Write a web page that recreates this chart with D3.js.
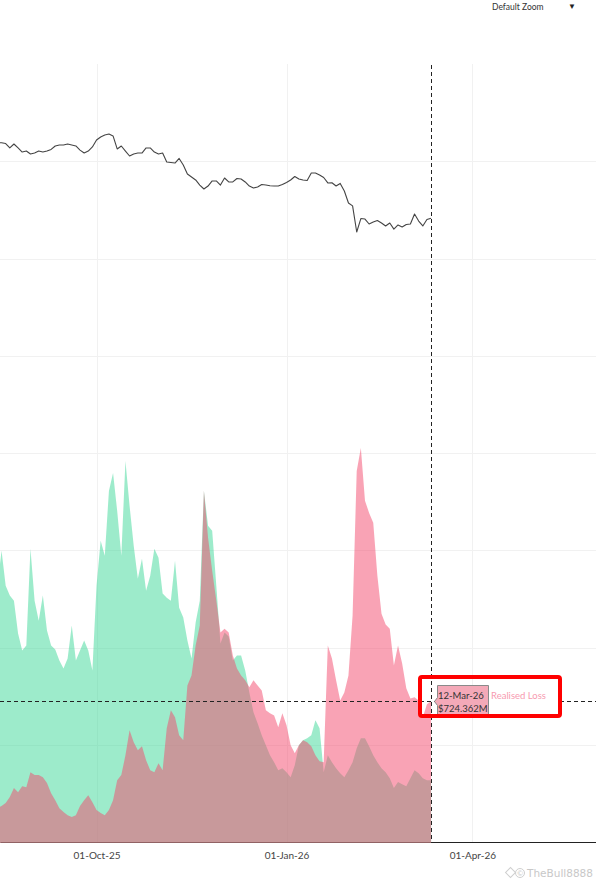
<!DOCTYPE html>
<html>
<head>
<meta charset="utf-8">
<script src="https://cdn.jsdelivr.net/npm/d3@7"></script>
<style>
  html, body { margin: 0; padding: 0; background: #fff; }
  svg { display: block; font-family: Lato, "Open Sans", sans-serif; }
</style>
</head>
<body>
<svg id="chart" width="596" height="889"></svg>
<script>
// ---------- data (2-day steps starting 14-Aug-2025) ----------
const startDate = "2025-08-14";
const stepDays = 2;
const tickLabels = ["2025-10-01", "2026-01-01", "2026-04-01"];

// Realised Profit ($M)
const realisedProfit = [1318,1497,1318,1267,1241,1072,985,1010,1508,1241,
  1138,1267,1087,1010,990,933,892,944,1113,933,
  985,1036,985,882,1318,1549,1472,1805,1897,1702,
  1472,1959,1728,1523,1354,1456,1292,1369,1508,1461,
  1277,1256,1241,1446,1205,1154,1036,944,1128,1241,
  1805,1626,1600,1318,1020,1077,1056,933,959,959,
  882,769,667,610,549,497,446,410,369,379,
  359,333,395,497,523,533,549,626,585,359,
  446,410,379,354,333,369,410,482,533,533,
  492,446,410,379,359,328,277,308,297,287,
  328,369,354,328,318,318];

// Realised Loss ($M)
const realisedLoss = [174,185,200,231,277,256,287,282,359,344,
  344,333,303,251,215,174,154,138,128,138,
  185,215,241,205,164,149,138,164,215,318,
  344,446,574,513,472,492,420,369,359,405,
  369,585,677,641,549,523,805,856,1010,1113,
  1805,1564,1395,1241,1077,1097,1077,959,892,856,
  831,795,831,805,779,677,662,651,590,662,
  600,497,456,497,523,513,492,446,415,410,
  1010,944,831,728,769,856,1164,1908,2026,1754,
  1692,1641,1369,1174,1118,1097,908,1010,918,790,
  738,744,728,641,708,724.362];

// BTC price ($K)
const price = [117.7,117.7,117.2,114.5,116.9,114.5,112.0,112.6,110.8,111.4,
  112.6,112.0,112.6,113.6,115.7,116.3,116.3,116.9,116.3,115.7,
  113.2,111.4,112.6,115.1,119.3,121.2,122.4,123.0,121.8,113.9,
  115.7,112.6,109.6,110.8,111.4,111.4,114.5,114.5,112.0,110.8,
  111.4,105.9,105.6,105.3,108.1,104.1,98.6,96.8,95.0,91.9,
  89.5,91.3,94.4,94.4,91.9,96.2,93.8,93.8,95.9,95.6,
  93.8,91.3,90.1,90.7,92.2,91.9,91.5,91.3,91.3,92.2,
  93.5,95.0,97.1,95.6,95.0,94.7,99.2,99.2,98.0,96.5,
  93.2,93.3,91.3,92.9,88.3,81.0,79.2,63.3,71.5,71.2,
  68.2,69.4,70.3,68.8,67.0,68.8,65.1,67.6,66.4,67.9,
  68.2,74.3,70.0,67.0,70.9,71.7];

const yGridValues = [500,1000,1500,2000,2500,3000,3500];

// ---------- setup ----------
const W = 596, H = 889;
const svg = d3.select("#chart");
const parse = d3.utcParse("%Y-%m-%d");
const start = parse(startDate);
const dates = realisedProfit.map((_, i) => d3.utcDay.offset(start, i * stepDays));
const rows = dates.map((d, i) => ({date: d, profit: realisedProfit[i], loss: realisedLoss[i], price: price[i]}));

const plotTop = 64, plotBottom = 842;
const x = d3.scaleUtc()
  .domain([Date.UTC(2025,7,15,6), Date.UTC(2026,4,30,21)])
  .range([0, W]);
const y = d3.scaleLinear().domain([0, 4000]).range([plotBottom, plotTop]);
const yPrice = d3.scaleLinear().domain([0, 165]).range([336, 65]);

// grid
const tickDates = tickLabels.map(parse);
svg.append("g").selectAll("line").data(yGridValues).join("line")
  .attr("x1", 0).attr("x2", W)
  .attr("y1", d => Math.round(y(d)) + 0.5).attr("y2", d => Math.round(y(d)) + 0.5)
  .attr("stroke", "#f1f1f1").attr("stroke-width", 1);
svg.append("g").selectAll("line").data(tickDates).join("line")
  .attr("x1", d => Math.round(x(d)) + 0.5).attr("x2", d => Math.round(x(d)) + 0.5)
  .attr("y1", plotTop).attr("y2", plotBottom)
  .attr("stroke", "#f1f1f1").attr("stroke-width", 1);

// x axis
const xAxis = d3.axisBottom(x).tickValues(tickDates)
  .tickFormat(d3.utcFormat("%d-%b-%y")).tickSize(0).tickPadding(10);
const gx = svg.append("g").attr("transform", `translate(0,${plotBottom})`).call(xAxis);
gx.select(".domain").attr("stroke", "#222").attr("stroke-width", 1);
gx.selectAll("text").attr("font-size", 10).attr("fill", "#444")
  .attr("font-family", "Lato, 'Open Sans', sans-serif");

// areas
const areaP = d3.area().x(d => x(d.date)).y0(plotBottom + 1).y1(d => y(d.profit));
const areaL = d3.area().x(d => x(d.date)).y0(plotBottom + 1).y1(d => y(d.loss));
svg.append("path").datum(rows).attr("d", areaP)
  .attr("fill", "rgb(59,215,151)").attr("fill-opacity", 0.5);
svg.append("path").datum(rows).attr("d", areaL)
  .attr("fill", "rgb(243,71,107)").attr("fill-opacity", 0.5);

// price line
const line = d3.line().x(d => x(d.date)).y(d => yPrice(d.price));
svg.append("path").datum(rows).attr("d", line)
  .attr("fill", "none").attr("stroke", "#444").attr("stroke-width", 1.1)
  .attr("stroke-linejoin", "round");

// crosshair
const last = rows[rows.length - 1];
const cx = Math.round(x(last.date)) + 0.5;
const cy = Math.round(y(last.loss)) + 0.5;
svg.append("line").attr("x1", cx).attr("x2", cx).attr("y1", plotTop + 1).attr("y2", plotBottom)
  .attr("stroke", "#222").attr("stroke-dasharray", "4,3");
svg.append("line").attr("x1", 0).attr("x2", W).attr("y1", cy).attr("y2", cy)
  .attr("stroke", "#222").attr("stroke-dasharray", "4,3");

// tooltip
const tip = svg.append("g");
tip.append("rect").attr("x", 489).attr("y", 684).attr("width", 70).attr("height", 32).attr("fill", "#fff");
tip.append("path")
  .attr("d", `M${cx+3},${cy} L${cx+6},${cy-4} L${cx+6},685.5 L488.5,685.5 L488.5,715.5 L${cx+6},715.5 L${cx+6},${cy+4} Z`)
  .attr("fill", "#f4a9b8").attr("stroke", "#8a8a8a").attr("stroke-width", 1);
const fmtDate = d3.utcFormat("%d-%b-%y");
tip.append("text").attr("x", 438).attr("y", 699).attr("font-size", 9.5).attr("fill", "#333")
  .text(fmtDate(last.date));
tip.append("text").attr("x", 438).attr("y", 712).attr("font-size", 9.5).attr("fill", "#333")
  .text("$" + last.loss.toFixed(3) + "M");
tip.append("text").attr("x", 491).attr("y", 699).attr("font-size", 9.5).attr("fill", "#f79ab0")
  .text("Realised Loss");

// red annotation box
svg.append("rect").attr("x", 420).attr("y", 677).attr("width", 140).attr("height", 39)
  .attr("rx", 2).attr("fill", "none").attr("stroke", "#ff0000").attr("stroke-width", 4);

// zoom selector
svg.append("text").attr("x", 492).attr("y", 10).attr("font-size", 8.5).attr("fill", "#333")
  .text("Default Zoom");
svg.append("text").attr("x", 568).attr("y", 9).attr("font-size", 8).attr("fill", "#222")
  .text("▼");

// watermark
const wm = svg.append("g").attr("fill", "none").attr("stroke", "#cfcfcf");
wm.append("rect").attr("x", 507).attr("y", 869).attr("width", 7).attr("height", 7)
  .attr("transform", "rotate(45 510.5 872.5)");
wm.append("circle").attr("cx", 520).attr("cy", 873).attr("r", 4.5);
svg.append("text").attr("x", 517.2).attr("y", 876).attr("font-size", 7).attr("fill", "#c8c8c8").text("©");
svg.append("text").attr("x", 527).attr("y", 877).attr("fill", "#c8c8c8")
  .attr("font-family", "'DejaVu Sans', sans-serif").attr("font-size", 10.5)
  .text("TheBull8888");
</script>
</body>
</html>
